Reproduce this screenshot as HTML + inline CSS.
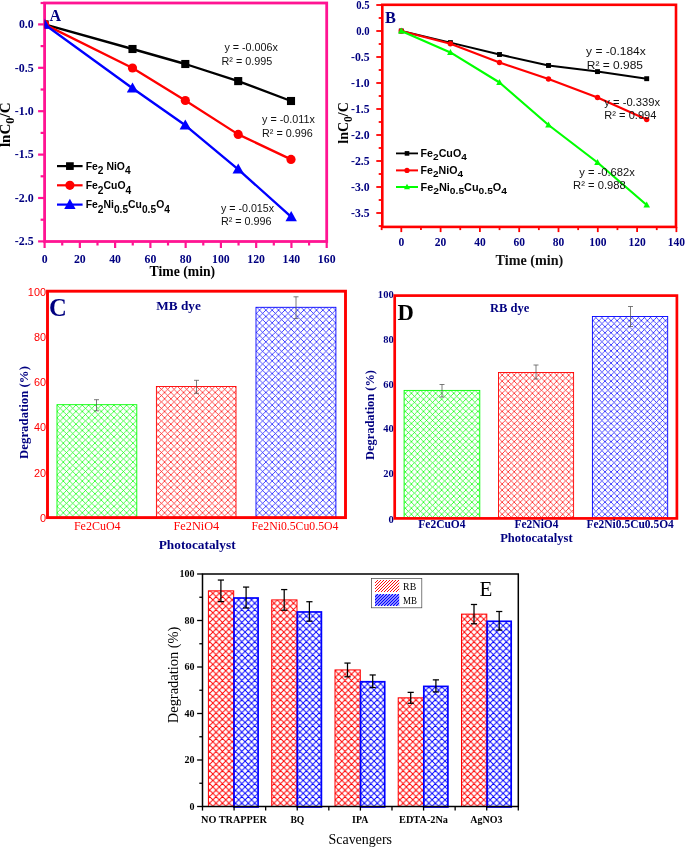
<!DOCTYPE html><html><head><meta charset="utf-8"><title>Figure</title>
<style>html,body{margin:0;padding:0;background:#fff}svg{display:block}</style></head><body>
<svg width="685" height="847" viewBox="0 0 685 847">
<rect width="685" height="847" fill="#fff"/>
<defs>
<pattern id="hg" width="6.33" height="6.33" patternUnits="userSpaceOnUse"><path d="M0,0 L6.33,6.33 M6.33,0 L0,6.33 M-3.165,3.165 L3.165,-3.165" stroke="#00FF00" stroke-width="0.7" fill="none"/></pattern>
<pattern id="hr" width="6.33" height="6.33" patternUnits="userSpaceOnUse"><path d="M0,0 L6.33,6.33 M6.33,0 L0,6.33 M-3.165,3.165 L3.165,-3.165" stroke="#FF0000" stroke-width="0.7" fill="none"/></pattern>
<pattern id="hb" width="6.33" height="6.33" patternUnits="userSpaceOnUse"><path d="M0,0 L6.33,6.33 M6.33,0 L0,6.33 M-3.165,3.165 L3.165,-3.165" stroke="#0000FF" stroke-width="0.7" fill="none"/></pattern>
<pattern id="dg" width="6.05" height="6.05" patternUnits="userSpaceOnUse"><path d="M0,0 L6.05,6.05 M6.05,0 L0,6.05 M-3.025,3.025 L3.025,-3.025" stroke="#00FF00" stroke-width="0.7" fill="none"/></pattern>
<pattern id="dr" width="6.05" height="6.05" patternUnits="userSpaceOnUse"><path d="M0,0 L6.05,6.05 M6.05,0 L0,6.05 M-3.025,3.025 L3.025,-3.025" stroke="#FF0000" stroke-width="0.7" fill="none"/></pattern>
<pattern id="db" width="6.05" height="6.05" patternUnits="userSpaceOnUse"><path d="M0,0 L6.05,6.05 M6.05,0 L0,6.05 M-3.025,3.025 L3.025,-3.025" stroke="#0000FF" stroke-width="0.7" fill="none"/></pattern>
<pattern id="er" width="6.45" height="6.45" patternUnits="userSpaceOnUse"><path d="M0,0 L6.45,6.45 M6.45,0 L0,6.45 M-3.225,3.225 L3.225,-3.225" stroke="#FF0000" stroke-width="0.95" fill="none"/></pattern>
<pattern id="eb" width="6.45" height="6.45" patternUnits="userSpaceOnUse"><path d="M0,0 L6.45,6.45 M6.45,0 L0,6.45 M-3.225,3.225 L3.225,-3.225" stroke="#0000FF" stroke-width="0.95" fill="none"/></pattern>
<pattern id="lr" width="2.1" height="2.1" patternUnits="userSpaceOnUse"><path d="M0,2.1 L2.1,0 M-1.05,1.05 L1.05,-1.05 M1.05,3.1500000000000004 L3.1500000000000004,1.05" stroke="#FF0000" stroke-width="0.62" fill="none"/></pattern>
<pattern id="lb" width="2.1" height="2.1" patternUnits="userSpaceOnUse"><path d="M0,2.1 L2.1,0 M-1.05,1.05 L1.05,-1.05 M1.05,3.1500000000000004 L3.1500000000000004,1.05" stroke="#0000FF" stroke-width="0.95" fill="none"/></pattern>
<clipPath id="ca"><rect x="44.6" y="3" width="282.1" height="238.5"/></clipPath>
</defs>
<line x1="44.60" y1="241.50" x2="44.60" y2="248.00" stroke="#FF1493" stroke-width="2.2"/>
<text x="41.65" y="262.6" font-size="12.3" fill="#000080" font-family='"Liberation Serif", serif' font-weight="bold" text-anchor="start" textLength="5.9" lengthAdjust="spacingAndGlyphs">0</text>
<line x1="62.23" y1="241.50" x2="62.23" y2="245.50" stroke="#FF1493" stroke-width="2.2"/>
<line x1="79.86" y1="241.50" x2="79.86" y2="248.00" stroke="#FF1493" stroke-width="2.2"/>
<text x="73.96249999999999" y="262.6" font-size="12.3" fill="#000080" font-family='"Liberation Serif", serif' font-weight="bold" text-anchor="start" textLength="11.8" lengthAdjust="spacingAndGlyphs">20</text>
<line x1="97.49" y1="241.50" x2="97.49" y2="245.50" stroke="#FF1493" stroke-width="2.2"/>
<line x1="115.12" y1="241.50" x2="115.12" y2="248.00" stroke="#FF1493" stroke-width="2.2"/>
<text x="109.225" y="262.6" font-size="12.3" fill="#000080" font-family='"Liberation Serif", serif' font-weight="bold" text-anchor="start" textLength="11.8" lengthAdjust="spacingAndGlyphs">40</text>
<line x1="132.76" y1="241.50" x2="132.76" y2="245.50" stroke="#FF1493" stroke-width="2.2"/>
<line x1="150.39" y1="241.50" x2="150.39" y2="248.00" stroke="#FF1493" stroke-width="2.2"/>
<text x="144.48749999999998" y="262.6" font-size="12.3" fill="#000080" font-family='"Liberation Serif", serif' font-weight="bold" text-anchor="start" textLength="11.8" lengthAdjust="spacingAndGlyphs">60</text>
<line x1="168.02" y1="241.50" x2="168.02" y2="245.50" stroke="#FF1493" stroke-width="2.2"/>
<line x1="185.65" y1="241.50" x2="185.65" y2="248.00" stroke="#FF1493" stroke-width="2.2"/>
<text x="179.74999999999997" y="262.6" font-size="12.3" fill="#000080" font-family='"Liberation Serif", serif' font-weight="bold" text-anchor="start" textLength="11.8" lengthAdjust="spacingAndGlyphs">80</text>
<line x1="203.28" y1="241.50" x2="203.28" y2="245.50" stroke="#FF1493" stroke-width="2.2"/>
<line x1="220.91" y1="241.50" x2="220.91" y2="248.00" stroke="#FF1493" stroke-width="2.2"/>
<text x="212.06249999999997" y="262.6" font-size="12.3" fill="#000080" font-family='"Liberation Serif", serif' font-weight="bold" text-anchor="start" textLength="17.7" lengthAdjust="spacingAndGlyphs">100</text>
<line x1="238.54" y1="241.50" x2="238.54" y2="245.50" stroke="#FF1493" stroke-width="2.2"/>
<line x1="256.18" y1="241.50" x2="256.18" y2="248.00" stroke="#FF1493" stroke-width="2.2"/>
<text x="247.32500000000002" y="262.6" font-size="12.3" fill="#000080" font-family='"Liberation Serif", serif' font-weight="bold" text-anchor="start" textLength="17.7" lengthAdjust="spacingAndGlyphs">120</text>
<line x1="273.81" y1="241.50" x2="273.81" y2="245.50" stroke="#FF1493" stroke-width="2.2"/>
<line x1="291.44" y1="241.50" x2="291.44" y2="248.00" stroke="#FF1493" stroke-width="2.2"/>
<text x="282.5875" y="262.6" font-size="12.3" fill="#000080" font-family='"Liberation Serif", serif' font-weight="bold" text-anchor="start" textLength="17.7" lengthAdjust="spacingAndGlyphs">140</text>
<line x1="309.07" y1="241.50" x2="309.07" y2="245.50" stroke="#FF1493" stroke-width="2.2"/>
<line x1="326.70" y1="241.50" x2="326.70" y2="248.00" stroke="#FF1493" stroke-width="2.2"/>
<text x="317.84999999999997" y="262.6" font-size="12.3" fill="#000080" font-family='"Liberation Serif", serif' font-weight="bold" text-anchor="start" textLength="17.7" lengthAdjust="spacingAndGlyphs">160</text>
<line x1="44.60" y1="24.40" x2="38.10" y2="24.40" stroke="#FF1493" stroke-width="2.2"/>
<text x="18.900000000000002" y="28.099999999999998" font-size="12.3" fill="#000080" font-family='"Liberation Serif", serif' font-weight="bold" text-anchor="start" textLength="14.8" lengthAdjust="spacingAndGlyphs">0.0</text>
<line x1="44.60" y1="46.10" x2="40.60" y2="46.10" stroke="#FF1493" stroke-width="2.2"/>
<line x1="44.60" y1="67.80" x2="38.10" y2="67.80" stroke="#FF1493" stroke-width="2.2"/>
<text x="14.800000000000004" y="71.5" font-size="12.3" fill="#000080" font-family='"Liberation Serif", serif' font-weight="bold" text-anchor="start" textLength="18.9" lengthAdjust="spacingAndGlyphs">-0.5</text>
<line x1="44.60" y1="89.50" x2="40.60" y2="89.50" stroke="#FF1493" stroke-width="2.2"/>
<line x1="44.60" y1="111.20" x2="38.10" y2="111.20" stroke="#FF1493" stroke-width="2.2"/>
<text x="14.800000000000004" y="114.89999999999999" font-size="12.3" fill="#000080" font-family='"Liberation Serif", serif' font-weight="bold" text-anchor="start" textLength="18.9" lengthAdjust="spacingAndGlyphs">-1.0</text>
<line x1="44.60" y1="132.90" x2="40.60" y2="132.90" stroke="#FF1493" stroke-width="2.2"/>
<line x1="44.60" y1="154.60" x2="38.10" y2="154.60" stroke="#FF1493" stroke-width="2.2"/>
<text x="14.800000000000004" y="158.29999999999998" font-size="12.3" fill="#000080" font-family='"Liberation Serif", serif' font-weight="bold" text-anchor="start" textLength="18.9" lengthAdjust="spacingAndGlyphs">-1.5</text>
<line x1="44.60" y1="176.30" x2="40.60" y2="176.30" stroke="#FF1493" stroke-width="2.2"/>
<line x1="44.60" y1="198.00" x2="38.10" y2="198.00" stroke="#FF1493" stroke-width="2.2"/>
<text x="14.800000000000004" y="201.7" font-size="12.3" fill="#000080" font-family='"Liberation Serif", serif' font-weight="bold" text-anchor="start" textLength="18.9" lengthAdjust="spacingAndGlyphs">-2.0</text>
<line x1="44.60" y1="219.70" x2="40.60" y2="219.70" stroke="#FF1493" stroke-width="2.2"/>
<line x1="44.60" y1="241.40" x2="38.10" y2="241.40" stroke="#FF1493" stroke-width="2.2"/>
<text x="14.800000000000004" y="245.1" font-size="12.3" fill="#000080" font-family='"Liberation Serif", serif' font-weight="bold" text-anchor="start" textLength="18.9" lengthAdjust="spacingAndGlyphs">-2.5</text>
<text x="149.6" y="276.4" font-size="14.2" fill="#000" font-family='"Liberation Serif", serif' font-weight="bold" text-anchor="start" textLength="65.6" lengthAdjust="spacingAndGlyphs">Time (min)</text>
<text transform="translate(10.4,147.1) rotate(-90)" font-size="14.6" fill="#000" font-family='"Liberation Serif", serif' font-weight="bold" textLength="44.6" lengthAdjust="spacingAndGlyphs">lnC<tspan font-size="12" dy="4">0</tspan><tspan dy="-4">/C</tspan></text>
<text x="49.4" y="20.7" font-size="17.4" fill="#000080" font-family='"Liberation Serif", serif' font-weight="bold" text-anchor="start" textLength="11.6" lengthAdjust="spacingAndGlyphs">A</text>
<rect x="44.6" y="3.0" width="282.09999999999997" height="238.5" fill="none" stroke="#FF1493" stroke-width="2.8"/>
<line x1="44.60" y1="3.00" x2="40.60" y2="3.00" stroke="#FF1493" stroke-width="2.2"/>
<g clip-path="url(#ca)">
<polyline points="44.6,24.4 132.5,49 185.3,64 238.2,81.1 291,101" fill="none" stroke="#000" stroke-width="2.35" stroke-linejoin="round"/>
<rect x="40.550000000000004" y="20.349999999999998" width="8.1" height="8.1" fill="#000"/>
<rect x="128.45" y="44.95" width="8.1" height="8.1" fill="#000"/>
<rect x="181.25" y="59.95" width="8.1" height="8.1" fill="#000"/>
<rect x="234.14999999999998" y="77.05" width="8.1" height="8.1" fill="#000"/>
<rect x="286.95" y="96.95" width="8.1" height="8.1" fill="#000"/>
<polyline points="44.6,24.4 132.5,68 185.3,100.5 238.2,134.4 291,159.4" fill="none" stroke="#FF0000" stroke-width="2.3" stroke-linejoin="round"/>
<circle cx="44.6" cy="24.4" r="4.6" fill="#FF0000"/>
<circle cx="132.5" cy="68" r="4.6" fill="#FF0000"/>
<circle cx="185.3" cy="100.5" r="4.6" fill="#FF0000"/>
<circle cx="238.2" cy="134.4" r="4.6" fill="#FF0000"/>
<circle cx="291" cy="159.4" r="4.6" fill="#FF0000"/>
<polyline points="44.6,24.4 132.5,88.3 185.3,125.3 238.2,169.3 291.2,216.9" fill="none" stroke="#0000FF" stroke-width="2.4" stroke-linejoin="round"/>
<polygon points="44.6,18.48 38.9,28.68 50.300000000000004,28.68" fill="#0000FF"/>
<polygon points="132.5,82.38 126.8,92.58 138.2,92.58" fill="#0000FF"/>
<polygon points="185.3,119.38 179.60000000000002,129.58 191.0,129.58" fill="#0000FF"/>
<polygon points="238.2,163.38 232.5,173.58 243.89999999999998,173.58" fill="#0000FF"/>
<polygon points="291.2,210.98 285.5,221.18 296.9,221.18" fill="#0000FF"/>
</g>
<text x="224.4" y="51.3" font-size="10.8" fill="#111" font-family='"Liberation Sans", sans-serif' text-anchor="start" textLength="53.5" lengthAdjust="spacingAndGlyphs">y = -0.006x</text>
<text x="221.5" y="64.9" font-size="10.8" fill="#111" font-family='"Liberation Sans", sans-serif' text-anchor="start" textLength="50.7" lengthAdjust="spacingAndGlyphs">R² = 0.995</text>
<text x="262" y="122.9" font-size="10.8" fill="#111" font-family='"Liberation Sans", sans-serif' text-anchor="start" textLength="52.8" lengthAdjust="spacingAndGlyphs">y = -0.011x</text>
<text x="262" y="136.8" font-size="10.8" fill="#111" font-family='"Liberation Sans", sans-serif' text-anchor="start" textLength="50.7" lengthAdjust="spacingAndGlyphs">R² = 0.996</text>
<text x="220.9" y="212" font-size="10.8" fill="#111" font-family='"Liberation Sans", sans-serif' text-anchor="start" textLength="53.2" lengthAdjust="spacingAndGlyphs">y = -0.015x</text>
<text x="220.9" y="225.4" font-size="10.8" fill="#111" font-family='"Liberation Sans", sans-serif' text-anchor="start" textLength="50.7" lengthAdjust="spacingAndGlyphs">R² = 0.996</text>
<line x1="57.00" y1="166.10" x2="82.60" y2="166.10" stroke="#000" stroke-width="2.2"/>
<rect x="66.05000000000001" y="162.25" width="7.7" height="7.7" fill="#000"/>
<line x1="57.00" y1="185.30" x2="82.60" y2="185.30" stroke="#FF0000" stroke-width="2.2"/>
<circle cx="69.9" cy="185.3" r="4.6" fill="#FF0000"/>
<line x1="57.00" y1="204.60" x2="82.60" y2="204.60" stroke="#0000FF" stroke-width="2.2"/>
<polygon points="69.9,198.68 64.2,208.88 75.60000000000001,208.88" fill="#0000FF"/>
<text x="85.7" y="169.9" font-size="10.8" fill="#000" font-family='"Liberation Sans", sans-serif' font-weight="bold" text-anchor="start" textLength="44.9" lengthAdjust="spacingAndGlyphs">Fe<tspan font-size="10.6" dy="4.4">2</tspan><tspan dy="-4.4"> NiO</tspan><tspan font-size="10.6" dy="4.4">4</tspan></text>
<text x="85.7" y="189.10000000000002" font-size="10.8" fill="#000" font-family='"Liberation Sans", sans-serif' font-weight="bold" text-anchor="start" textLength="45.5" lengthAdjust="spacingAndGlyphs">Fe<tspan font-size="10.6" dy="4.4">2</tspan><tspan dy="-4.4">CuO</tspan><tspan font-size="10.6" dy="4.4">4</tspan></text>
<text x="85.7" y="208.4" font-size="10.8" fill="#000" font-family='"Liberation Sans", sans-serif' font-weight="bold" text-anchor="start" textLength="84.2" lengthAdjust="spacingAndGlyphs">Fe<tspan font-size="10.6" dy="4.4">2</tspan><tspan dy="-4.4">Ni</tspan><tspan font-size="10.6" dy="4.4">0.5</tspan><tspan dy="-4.4">Cu</tspan><tspan font-size="10.6" dy="4.4">0.5</tspan><tspan dy="-4.4">O</tspan><tspan font-size="10.6" dy="4.4">4</tspan></text>
<line x1="381.65" y1="226.90" x2="381.65" y2="230.10" stroke="#FF0000" stroke-width="1.8"/>
<line x1="401.30" y1="226.90" x2="401.30" y2="232.10" stroke="#FF0000" stroke-width="1.8"/>
<text x="398.415" y="246.0" font-size="11.6" fill="#000080" font-family='"Liberation Serif", serif' font-weight="bold" text-anchor="start" textLength="5.8" lengthAdjust="spacingAndGlyphs">0</text>
<line x1="420.95" y1="226.90" x2="420.95" y2="230.10" stroke="#FF0000" stroke-width="1.8"/>
<line x1="440.60" y1="226.90" x2="440.60" y2="232.10" stroke="#FF0000" stroke-width="1.8"/>
<text x="434.83000000000004" y="246.0" font-size="11.6" fill="#000080" font-family='"Liberation Serif", serif' font-weight="bold" text-anchor="start" textLength="11.5" lengthAdjust="spacingAndGlyphs">20</text>
<line x1="460.25" y1="226.90" x2="460.25" y2="230.10" stroke="#FF0000" stroke-width="1.8"/>
<line x1="479.90" y1="226.90" x2="479.90" y2="232.10" stroke="#FF0000" stroke-width="1.8"/>
<text x="474.13" y="246.0" font-size="11.6" fill="#000080" font-family='"Liberation Serif", serif' font-weight="bold" text-anchor="start" textLength="11.5" lengthAdjust="spacingAndGlyphs">40</text>
<line x1="499.55" y1="226.90" x2="499.55" y2="230.10" stroke="#FF0000" stroke-width="1.8"/>
<line x1="519.20" y1="226.90" x2="519.20" y2="232.10" stroke="#FF0000" stroke-width="1.8"/>
<text x="513.4300000000001" y="246.0" font-size="11.6" fill="#000080" font-family='"Liberation Serif", serif' font-weight="bold" text-anchor="start" textLength="11.5" lengthAdjust="spacingAndGlyphs">60</text>
<line x1="538.85" y1="226.90" x2="538.85" y2="230.10" stroke="#FF0000" stroke-width="1.8"/>
<line x1="558.50" y1="226.90" x2="558.50" y2="232.10" stroke="#FF0000" stroke-width="1.8"/>
<text x="552.73" y="246.0" font-size="11.6" fill="#000080" font-family='"Liberation Serif", serif' font-weight="bold" text-anchor="start" textLength="11.5" lengthAdjust="spacingAndGlyphs">80</text>
<line x1="578.15" y1="226.90" x2="578.15" y2="230.10" stroke="#FF0000" stroke-width="1.8"/>
<line x1="597.80" y1="226.90" x2="597.80" y2="232.10" stroke="#FF0000" stroke-width="1.8"/>
<text x="589.145" y="246.0" font-size="11.6" fill="#000080" font-family='"Liberation Serif", serif' font-weight="bold" text-anchor="start" textLength="17.3" lengthAdjust="spacingAndGlyphs">100</text>
<line x1="617.45" y1="226.90" x2="617.45" y2="230.10" stroke="#FF0000" stroke-width="1.8"/>
<line x1="637.10" y1="226.90" x2="637.10" y2="232.10" stroke="#FF0000" stroke-width="1.8"/>
<text x="628.445" y="246.0" font-size="11.6" fill="#000080" font-family='"Liberation Serif", serif' font-weight="bold" text-anchor="start" textLength="17.3" lengthAdjust="spacingAndGlyphs">120</text>
<line x1="656.75" y1="226.90" x2="656.75" y2="230.10" stroke="#FF0000" stroke-width="1.8"/>
<line x1="676.40" y1="226.90" x2="676.40" y2="232.10" stroke="#FF0000" stroke-width="1.8"/>
<text x="667.745" y="246.0" font-size="11.6" fill="#000080" font-family='"Liberation Serif", serif' font-weight="bold" text-anchor="start" textLength="17.3" lengthAdjust="spacingAndGlyphs">140</text>
<line x1="382.30" y1="5.00" x2="376.30" y2="5.00" stroke="#FF0000" stroke-width="1.8"/>
<text x="356.20000000000005" y="8.6" font-size="11.6" fill="#000080" font-family='"Liberation Serif", serif' font-weight="bold" text-anchor="start" textLength="13.4" lengthAdjust="spacingAndGlyphs">0.5</text>
<line x1="382.30" y1="18.00" x2="378.70" y2="18.00" stroke="#FF0000" stroke-width="1.8"/>
<line x1="382.30" y1="31.00" x2="376.30" y2="31.00" stroke="#FF0000" stroke-width="1.8"/>
<text x="356.20000000000005" y="34.6" font-size="11.6" fill="#000080" font-family='"Liberation Serif", serif' font-weight="bold" text-anchor="start" textLength="13.4" lengthAdjust="spacingAndGlyphs">0.0</text>
<line x1="382.30" y1="44.00" x2="378.70" y2="44.00" stroke="#FF0000" stroke-width="1.8"/>
<line x1="382.30" y1="57.00" x2="376.30" y2="57.00" stroke="#FF0000" stroke-width="1.8"/>
<text x="351.0" y="60.6" font-size="11.6" fill="#000080" font-family='"Liberation Serif", serif' font-weight="bold" text-anchor="start" textLength="18.6" lengthAdjust="spacingAndGlyphs">-0.5</text>
<line x1="382.30" y1="70.00" x2="378.70" y2="70.00" stroke="#FF0000" stroke-width="1.8"/>
<line x1="382.30" y1="83.00" x2="376.30" y2="83.00" stroke="#FF0000" stroke-width="1.8"/>
<text x="351.0" y="86.6" font-size="11.6" fill="#000080" font-family='"Liberation Serif", serif' font-weight="bold" text-anchor="start" textLength="18.6" lengthAdjust="spacingAndGlyphs">-1.0</text>
<line x1="382.30" y1="96.00" x2="378.70" y2="96.00" stroke="#FF0000" stroke-width="1.8"/>
<line x1="382.30" y1="109.00" x2="376.30" y2="109.00" stroke="#FF0000" stroke-width="1.8"/>
<text x="351.0" y="112.6" font-size="11.6" fill="#000080" font-family='"Liberation Serif", serif' font-weight="bold" text-anchor="start" textLength="18.6" lengthAdjust="spacingAndGlyphs">-1.5</text>
<line x1="382.30" y1="122.00" x2="378.70" y2="122.00" stroke="#FF0000" stroke-width="1.8"/>
<line x1="382.30" y1="135.00" x2="376.30" y2="135.00" stroke="#FF0000" stroke-width="1.8"/>
<text x="351.0" y="138.6" font-size="11.6" fill="#000080" font-family='"Liberation Serif", serif' font-weight="bold" text-anchor="start" textLength="18.6" lengthAdjust="spacingAndGlyphs">-2.0</text>
<line x1="382.30" y1="148.00" x2="378.70" y2="148.00" stroke="#FF0000" stroke-width="1.8"/>
<line x1="382.30" y1="161.00" x2="376.30" y2="161.00" stroke="#FF0000" stroke-width="1.8"/>
<text x="351.0" y="164.6" font-size="11.6" fill="#000080" font-family='"Liberation Serif", serif' font-weight="bold" text-anchor="start" textLength="18.6" lengthAdjust="spacingAndGlyphs">-2.5</text>
<line x1="382.30" y1="174.00" x2="378.70" y2="174.00" stroke="#FF0000" stroke-width="1.8"/>
<line x1="382.30" y1="187.00" x2="376.30" y2="187.00" stroke="#FF0000" stroke-width="1.8"/>
<text x="351.0" y="190.6" font-size="11.6" fill="#000080" font-family='"Liberation Serif", serif' font-weight="bold" text-anchor="start" textLength="18.6" lengthAdjust="spacingAndGlyphs">-3.0</text>
<line x1="382.30" y1="200.00" x2="378.70" y2="200.00" stroke="#FF0000" stroke-width="1.8"/>
<line x1="382.30" y1="213.00" x2="376.30" y2="213.00" stroke="#FF0000" stroke-width="1.8"/>
<text x="351.0" y="216.6" font-size="11.6" fill="#000080" font-family='"Liberation Serif", serif' font-weight="bold" text-anchor="start" textLength="18.6" lengthAdjust="spacingAndGlyphs">-3.5</text>
<line x1="382.30" y1="226.00" x2="378.70" y2="226.00" stroke="#FF0000" stroke-width="1.8"/>
<text x="495.5" y="264.7" font-size="13.8" fill="#111" font-family='"Liberation Serif", serif' font-weight="bold" text-anchor="start" textLength="67.8" lengthAdjust="spacingAndGlyphs">Time (min)</text>
<text transform="translate(348.4,143.75) rotate(-90)" font-size="15.6" fill="#000" font-family='"Liberation Serif", serif' font-weight="bold" textLength="41.5" lengthAdjust="spacingAndGlyphs">lnC<tspan font-size="12.8" dy="4">0</tspan><tspan dy="-4">/C</tspan></text>
<text x="384.9" y="23.3" font-size="16.3" fill="#000080" font-family='"Liberation Serif", serif' font-weight="bold" text-anchor="start">B</text>
<polyline points="401.3,31 450.4,42.6 499.5,54.5 548.5,65.5 597.5,71.6 646.7,78.7" fill="none" stroke="#000" stroke-width="2.0" stroke-linejoin="round"/>
<rect x="398.85" y="28.55" width="4.9" height="4.9" fill="#000"/>
<rect x="447.95" y="40.15" width="4.9" height="4.9" fill="#000"/>
<rect x="497.05" y="52.05" width="4.9" height="4.9" fill="#000"/>
<rect x="546.05" y="63.05" width="4.9" height="4.9" fill="#000"/>
<rect x="595.05" y="69.14999999999999" width="4.9" height="4.9" fill="#000"/>
<rect x="644.25" y="76.25" width="4.9" height="4.9" fill="#000"/>
<polyline points="401.3,31 450.4,43.8 499.5,62.5 548.5,79 597.5,97.5 646.7,119.6" fill="none" stroke="#FF0000" stroke-width="2.2" stroke-linejoin="round"/>
<circle cx="401.3" cy="31" r="2.7" fill="#FF0000"/>
<circle cx="450.4" cy="43.8" r="2.7" fill="#FF0000"/>
<circle cx="499.5" cy="62.5" r="2.7" fill="#FF0000"/>
<circle cx="548.5" cy="79" r="2.7" fill="#FF0000"/>
<circle cx="597.5" cy="97.5" r="2.7" fill="#FF0000"/>
<circle cx="646.7" cy="119.6" r="2.7" fill="#FF0000"/>
<polyline points="401.3,31 450.4,52.4 499.5,82.5 548.5,125 597.5,162.5 646.7,205" fill="none" stroke="#00FF00" stroke-width="2.2" stroke-linejoin="round"/>
<polygon points="401.3,27.52 398.0,33.52 404.6,33.52" fill="#00FF00"/>
<polygon points="450.4,48.92 447.09999999999997,54.92 453.7,54.92" fill="#00FF00"/>
<polygon points="499.5,79.02 496.2,85.02 502.8,85.02" fill="#00FF00"/>
<polygon points="548.5,121.52 545.2,127.52 551.8,127.52" fill="#00FF00"/>
<polygon points="597.5,159.02 594.2,165.02 600.8,165.02" fill="#00FF00"/>
<polygon points="646.7,201.52 643.4000000000001,207.52 650.0,207.52" fill="#00FF00"/>
<text x="586.1" y="55" font-size="10.8" fill="#111" font-family='"Liberation Sans", sans-serif' text-anchor="start" textLength="59.7" lengthAdjust="spacingAndGlyphs">y = -0.184x</text>
<text x="586.8" y="69.2" font-size="10.8" fill="#111" font-family='"Liberation Sans", sans-serif' text-anchor="start" textLength="56.2" lengthAdjust="spacingAndGlyphs">R² = 0.985</text>
<text x="604.3" y="105.7" font-size="10.8" fill="#111" font-family='"Liberation Sans", sans-serif' text-anchor="start" textLength="55.7" lengthAdjust="spacingAndGlyphs">y = -0.339x</text>
<text x="604.3" y="118.9" font-size="10.8" fill="#111" font-family='"Liberation Sans", sans-serif' text-anchor="start" textLength="52.1" lengthAdjust="spacingAndGlyphs">R² = 0.994</text>
<text x="579.2" y="175.8" font-size="10.8" fill="#111" font-family='"Liberation Sans", sans-serif' text-anchor="start" textLength="55.6" lengthAdjust="spacingAndGlyphs">y = -0.682x</text>
<text x="573.1" y="188.9" font-size="10.8" fill="#111" font-family='"Liberation Sans", sans-serif' text-anchor="start" textLength="52.6" lengthAdjust="spacingAndGlyphs">R² = 0.988</text>
<line x1="396.00" y1="153.40" x2="418.00" y2="153.40" stroke="#000" stroke-width="1.8"/>
<rect x="404.7" y="151.1" width="4.6" height="4.6" fill="#000"/>
<line x1="396.00" y1="170.40" x2="418.00" y2="170.40" stroke="#FF0000" stroke-width="2"/>
<circle cx="407" cy="170.4" r="2.6" fill="#FF0000"/>
<line x1="396.00" y1="187.00" x2="418.00" y2="187.00" stroke="#00FF00" stroke-width="2"/>
<polygon points="407,183.81 404.0,189.31 410.0,189.31" fill="#00FF00"/>
<text x="420.6" y="157.0" font-size="10.5" fill="#000" font-family='"Liberation Sans", sans-serif' font-weight="bold" text-anchor="start" textLength="46.2" lengthAdjust="spacingAndGlyphs">Fe<tspan font-size="9.9" dy="3.2">2</tspan><tspan dy="-3.2">CuO</tspan><tspan font-size="9.9" dy="3.2">4</tspan></text>
<text x="420.6" y="174.0" font-size="10.5" fill="#000" font-family='"Liberation Sans", sans-serif' font-weight="bold" text-anchor="start" textLength="42.4" lengthAdjust="spacingAndGlyphs">Fe<tspan font-size="9.9" dy="3.2">2</tspan><tspan dy="-3.2">NiO</tspan><tspan font-size="9.9" dy="3.2">4</tspan></text>
<text x="420.6" y="190.6" font-size="10.5" fill="#000" font-family='"Liberation Sans", sans-serif' font-weight="bold" text-anchor="start" textLength="86.4" lengthAdjust="spacingAndGlyphs">Fe<tspan font-size="9.9" dy="3.2">2</tspan><tspan dy="-3.2">Ni</tspan><tspan font-size="9.9" dy="3.2">0.5</tspan><tspan dy="-3.2">Cu</tspan><tspan font-size="9.9" dy="3.2">0.5</tspan><tspan dy="-3.2">O</tspan><tspan font-size="9.9" dy="3.2">4</tspan></text>
<rect x="382.3" y="4.8" width="293.7" height="222.1" fill="none" stroke="#FF0000" stroke-width="2.6"/>
<text x="40.03" y="522.4" font-size="10.8" fill="#FF0000" font-family='"Liberation Sans", sans-serif' text-anchor="start" textLength="6.1" lengthAdjust="spacingAndGlyphs">0</text>
<text x="33.96" y="476.5799999999999" font-size="10.8" fill="#FF0000" font-family='"Liberation Sans", sans-serif' text-anchor="start" textLength="12.1" lengthAdjust="spacingAndGlyphs">20</text>
<text x="33.96" y="431.35999999999996" font-size="10.8" fill="#FF0000" font-family='"Liberation Sans", sans-serif' text-anchor="start" textLength="12.1" lengthAdjust="spacingAndGlyphs">40</text>
<text x="33.96" y="386.14" font-size="10.8" fill="#FF0000" font-family='"Liberation Sans", sans-serif' text-anchor="start" textLength="12.1" lengthAdjust="spacingAndGlyphs">60</text>
<text x="33.96" y="340.91999999999996" font-size="10.8" fill="#FF0000" font-family='"Liberation Sans", sans-serif' text-anchor="start" textLength="12.1" lengthAdjust="spacingAndGlyphs">80</text>
<text x="27.89" y="296.0999999999999" font-size="10.8" fill="#FF0000" font-family='"Liberation Sans", sans-serif' text-anchor="start" textLength="18.2" lengthAdjust="spacingAndGlyphs">100</text>
<rect x="57" y="404.7" width="79.80000000000001" height="112.80000000000001" fill="url(#hg)" stroke="#00FF00" stroke-width="0.9"/>
<rect x="156.4" y="386.5" width="79.6" height="131.0" fill="url(#hr)" stroke="#FF0000" stroke-width="0.9"/>
<rect x="256.0" y="307.3" width="79.89999999999998" height="210.2" fill="url(#hb)" stroke="#0000FF" stroke-width="0.9"/>
<line x1="96.50" y1="399.70" x2="96.50" y2="410.80" stroke="#505050" stroke-width="0.75"/>
<line x1="94.00" y1="399.70" x2="99.00" y2="399.70" stroke="#505050" stroke-width="0.75"/>
<line x1="94.00" y1="410.80" x2="99.00" y2="410.80" stroke="#505050" stroke-width="0.75"/>
<line x1="196.50" y1="380.30" x2="196.50" y2="393.30" stroke="#505050" stroke-width="0.75"/>
<line x1="194.00" y1="380.30" x2="199.00" y2="380.30" stroke="#505050" stroke-width="0.75"/>
<line x1="194.00" y1="393.30" x2="199.00" y2="393.30" stroke="#505050" stroke-width="0.75"/>
<line x1="296.00" y1="296.80" x2="296.00" y2="318.60" stroke="#505050" stroke-width="0.75"/>
<line x1="293.50" y1="296.80" x2="298.50" y2="296.80" stroke="#505050" stroke-width="0.75"/>
<line x1="293.50" y1="318.60" x2="298.50" y2="318.60" stroke="#505050" stroke-width="0.75"/>
<rect x="47.5" y="291.2" width="298.0" height="226.40000000000003" fill="none" stroke="#FF0000" stroke-width="2.9"/>
<text x="49" y="315.5" font-size="24.6" fill="#000080" font-family='"Liberation Serif", serif' font-weight="bold" text-anchor="start">C</text>
<text x="156.3" y="309.5" font-size="13" fill="#000080" font-family='"Liberation Serif", serif' font-weight="bold" text-anchor="start" textLength="44.6" lengthAdjust="spacingAndGlyphs">MB dye</text>
<text x="73.9" y="530.2" font-size="12" fill="#FF0000" font-family='"Liberation Serif", serif' text-anchor="start" textLength="46.7" lengthAdjust="spacingAndGlyphs">Fe2CuO4</text>
<text x="173.5" y="530.2" font-size="12" fill="#FF0000" font-family='"Liberation Serif", serif' text-anchor="start" textLength="45.7" lengthAdjust="spacingAndGlyphs">Fe2NiO4</text>
<text x="251.5" y="530.2" font-size="12" fill="#FF0000" font-family='"Liberation Serif", serif' text-anchor="start" textLength="86.9" lengthAdjust="spacingAndGlyphs">Fe2Ni0.5Cu0.5O4</text>
<text x="158.7" y="548.9" font-size="12.9" fill="#000080" font-family='"Liberation Serif", serif' font-weight="bold" text-anchor="start" textLength="76.9" lengthAdjust="spacingAndGlyphs">Photocatalyst</text>
<text transform="translate(27.6,458.9) rotate(-90)" font-size="12.8" fill="#000080" font-family='"Liberation Serif", serif' font-weight="bold" textLength="92.8" lengthAdjust="spacingAndGlyphs">Degradation (%)</text>
<text x="388.43" y="522.6" font-size="10.4" fill="#000080" font-family='"Liberation Serif", serif' font-weight="bold" text-anchor="start" textLength="5.3" lengthAdjust="spacingAndGlyphs">0</text>
<text x="383.15999999999997" y="476.65999999999997" font-size="10.4" fill="#000080" font-family='"Liberation Serif", serif' font-weight="bold" text-anchor="start" textLength="10.5" lengthAdjust="spacingAndGlyphs">20</text>
<text x="383.15999999999997" y="432.21999999999997" font-size="10.4" fill="#000080" font-family='"Liberation Serif", serif' font-weight="bold" text-anchor="start" textLength="10.5" lengthAdjust="spacingAndGlyphs">40</text>
<text x="383.15999999999997" y="387.78" font-size="10.4" fill="#000080" font-family='"Liberation Serif", serif' font-weight="bold" text-anchor="start" textLength="10.5" lengthAdjust="spacingAndGlyphs">60</text>
<text x="383.15999999999997" y="343.34" font-size="10.4" fill="#000080" font-family='"Liberation Serif", serif' font-weight="bold" text-anchor="start" textLength="10.5" lengthAdjust="spacingAndGlyphs">80</text>
<text x="377.89" y="298.09999999999997" font-size="10.4" fill="#000080" font-family='"Liberation Serif", serif' font-weight="bold" text-anchor="start" textLength="15.8" lengthAdjust="spacingAndGlyphs">100</text>
<rect x="404.1" y="390.4" width="75.69999999999999" height="128.0" fill="url(#dg)" stroke="#00FF00" stroke-width="0.9"/>
<rect x="498.5" y="372.5" width="75.10000000000002" height="145.89999999999998" fill="url(#dr)" stroke="#FF0000" stroke-width="0.9"/>
<rect x="592.4" y="316.5" width="75.30000000000007" height="201.89999999999998" fill="url(#db)" stroke="#0000FF" stroke-width="0.9"/>
<line x1="442.00" y1="384.50" x2="442.00" y2="397.00" stroke="#505050" stroke-width="0.75"/>
<line x1="439.50" y1="384.50" x2="444.50" y2="384.50" stroke="#505050" stroke-width="0.75"/>
<line x1="439.50" y1="397.00" x2="444.50" y2="397.00" stroke="#505050" stroke-width="0.75"/>
<line x1="536.00" y1="365.00" x2="536.00" y2="379.00" stroke="#505050" stroke-width="0.75"/>
<line x1="533.50" y1="365.00" x2="538.50" y2="365.00" stroke="#505050" stroke-width="0.75"/>
<line x1="533.50" y1="379.00" x2="538.50" y2="379.00" stroke="#505050" stroke-width="0.75"/>
<line x1="630.50" y1="306.50" x2="630.50" y2="326.50" stroke="#505050" stroke-width="0.75"/>
<line x1="628.00" y1="306.50" x2="633.00" y2="306.50" stroke="#505050" stroke-width="0.75"/>
<line x1="628.00" y1="326.50" x2="633.00" y2="326.50" stroke="#505050" stroke-width="0.75"/>
<rect x="394.7" y="295.6" width="282.2" height="222.79999999999995" fill="none" stroke="#FF0000" stroke-width="2.7"/>
<text x="397.6" y="319.9" font-size="22.6" fill="#000" font-family='"Liberation Serif", serif' font-weight="bold" text-anchor="start">D</text>
<text x="490" y="311.7" font-size="12.8" fill="#000080" font-family='"Liberation Serif", serif' font-weight="bold" text-anchor="start" textLength="39.4" lengthAdjust="spacingAndGlyphs">RB dye</text>
<text x="418.3" y="528.2" font-size="11.8" fill="#000080" font-family='"Liberation Serif", serif' font-weight="bold" text-anchor="start" textLength="47.2" lengthAdjust="spacingAndGlyphs">Fe2CuO4</text>
<text x="514.5" y="528.2" font-size="11.8" fill="#000080" font-family='"Liberation Serif", serif' font-weight="bold" text-anchor="start" textLength="44.0" lengthAdjust="spacingAndGlyphs">Fe2NiO4</text>
<text x="586.5" y="528.2" font-size="11.8" fill="#000080" font-family='"Liberation Serif", serif' font-weight="bold" text-anchor="start" textLength="87.3" lengthAdjust="spacingAndGlyphs">Fe2Ni0.5Cu0.5O4</text>
<text x="500.2" y="542.2" font-size="12.2" fill="#000080" font-family='"Liberation Serif", serif' font-weight="bold" text-anchor="start" textLength="72.4" lengthAdjust="spacingAndGlyphs">Photocatalyst</text>
<text transform="translate(373.6,460.0) rotate(-90)" font-size="12.4" fill="#000080" font-family='"Liberation Serif", serif' font-weight="bold" textLength="90" lengthAdjust="spacingAndGlyphs">Degradation (%)</text>
<rect x="208.4" y="590.84" width="25.3" height="215.66" fill="url(#er)" stroke="#FF0000" stroke-width="1"/>
<rect x="234.0" y="598.01" width="24.1" height="208.99" fill="url(#eb)" stroke="#0000FF" stroke-width="1.7"/>
<line x1="220.90" y1="580.05" x2="220.90" y2="601.63" stroke="#000" stroke-width="1.25"/>
<line x1="217.80" y1="580.05" x2="224.00" y2="580.05" stroke="#000" stroke-width="1.25"/>
<line x1="217.80" y1="601.63" x2="224.00" y2="601.63" stroke="#000" stroke-width="1.25"/>
<line x1="246.10" y1="587.08" x2="246.10" y2="607.95" stroke="#000" stroke-width="1.25"/>
<line x1="243.00" y1="587.08" x2="249.20" y2="587.08" stroke="#000" stroke-width="1.25"/>
<line x1="243.00" y1="607.95" x2="249.20" y2="607.95" stroke="#000" stroke-width="1.25"/>
<rect x="271.7" y="599.91" width="25.3" height="206.59" fill="url(#er)" stroke="#FF0000" stroke-width="1"/>
<rect x="297.3" y="611.96" width="24.1" height="195.04" fill="url(#eb)" stroke="#0000FF" stroke-width="1.7"/>
<line x1="284.20" y1="589.57" x2="284.20" y2="610.24" stroke="#000" stroke-width="1.25"/>
<line x1="281.10" y1="589.57" x2="287.30" y2="589.57" stroke="#000" stroke-width="1.25"/>
<line x1="281.10" y1="610.24" x2="287.30" y2="610.24" stroke="#000" stroke-width="1.25"/>
<line x1="309.40" y1="601.72" x2="309.40" y2="621.21" stroke="#000" stroke-width="1.25"/>
<line x1="306.30" y1="601.72" x2="312.50" y2="601.72" stroke="#000" stroke-width="1.25"/>
<line x1="306.30" y1="621.21" x2="312.50" y2="621.21" stroke="#000" stroke-width="1.25"/>
<rect x="335.0" y="669.93" width="25.3" height="136.57" fill="url(#er)" stroke="#FF0000" stroke-width="1"/>
<rect x="360.6" y="681.75" width="24.1" height="125.25" fill="url(#eb)" stroke="#0000FF" stroke-width="1.7"/>
<line x1="347.50" y1="663.07" x2="347.50" y2="676.78" stroke="#000" stroke-width="1.25"/>
<line x1="344.40" y1="663.07" x2="350.60" y2="663.07" stroke="#000" stroke-width="1.25"/>
<line x1="344.40" y1="676.78" x2="350.60" y2="676.78" stroke="#000" stroke-width="1.25"/>
<line x1="372.70" y1="674.97" x2="372.70" y2="687.53" stroke="#000" stroke-width="1.25"/>
<line x1="369.60" y1="674.97" x2="375.80" y2="674.97" stroke="#000" stroke-width="1.25"/>
<line x1="369.60" y1="687.53" x2="375.80" y2="687.53" stroke="#000" stroke-width="1.25"/>
<rect x="398.2" y="697.83" width="25.3" height="108.67" fill="url(#er)" stroke="#FF0000" stroke-width="1"/>
<rect x="423.8" y="686.40" width="24.1" height="120.60" fill="url(#eb)" stroke="#0000FF" stroke-width="1.7"/>
<line x1="410.70" y1="692.36" x2="410.70" y2="703.29" stroke="#000" stroke-width="1.25"/>
<line x1="407.60" y1="692.36" x2="413.80" y2="692.36" stroke="#000" stroke-width="1.25"/>
<line x1="407.60" y1="703.29" x2="413.80" y2="703.29" stroke="#000" stroke-width="1.25"/>
<line x1="435.90" y1="679.86" x2="435.90" y2="691.94" stroke="#000" stroke-width="1.25"/>
<line x1="432.80" y1="679.86" x2="439.00" y2="679.86" stroke="#000" stroke-width="1.25"/>
<line x1="432.80" y1="691.94" x2="439.00" y2="691.94" stroke="#000" stroke-width="1.25"/>
<rect x="461.5" y="614.12" width="25.3" height="192.38" fill="url(#er)" stroke="#FF0000" stroke-width="1"/>
<rect x="487.1" y="621.30" width="24.1" height="185.70" fill="url(#eb)" stroke="#0000FF" stroke-width="1.7"/>
<line x1="474.00" y1="604.48" x2="474.00" y2="623.77" stroke="#000" stroke-width="1.25"/>
<line x1="470.90" y1="604.48" x2="477.10" y2="604.48" stroke="#000" stroke-width="1.25"/>
<line x1="470.90" y1="623.77" x2="477.10" y2="623.77" stroke="#000" stroke-width="1.25"/>
<line x1="499.20" y1="611.50" x2="499.20" y2="630.10" stroke="#000" stroke-width="1.25"/>
<line x1="496.10" y1="611.50" x2="502.30" y2="611.50" stroke="#000" stroke-width="1.25"/>
<line x1="496.10" y1="630.10" x2="502.30" y2="630.10" stroke="#000" stroke-width="1.25"/>
<rect x="202.5" y="574.0" width="315.79999999999995" height="232.5" fill="none" stroke="#000" stroke-width="1.5"/>
<line x1="202.50" y1="806.50" x2="197.10" y2="806.50" stroke="#000" stroke-width="1.3"/>
<text x="189.6" y="809.8" font-size="10.6" fill="#000" font-family='"Liberation Serif", serif' font-weight="bold" text-anchor="start" textLength="5.0" lengthAdjust="spacingAndGlyphs">0</text>
<line x1="202.50" y1="783.25" x2="199.30" y2="783.25" stroke="#000" stroke-width="1.3"/>
<line x1="202.50" y1="760.00" x2="197.10" y2="760.00" stroke="#000" stroke-width="1.3"/>
<text x="184.6" y="763.3" font-size="10.6" fill="#000" font-family='"Liberation Serif", serif' font-weight="bold" text-anchor="start" textLength="10.0" lengthAdjust="spacingAndGlyphs">20</text>
<line x1="202.50" y1="736.75" x2="199.30" y2="736.75" stroke="#000" stroke-width="1.3"/>
<line x1="202.50" y1="713.50" x2="197.10" y2="713.50" stroke="#000" stroke-width="1.3"/>
<text x="184.6" y="716.8" font-size="10.6" fill="#000" font-family='"Liberation Serif", serif' font-weight="bold" text-anchor="start" textLength="10.0" lengthAdjust="spacingAndGlyphs">40</text>
<line x1="202.50" y1="690.25" x2="199.30" y2="690.25" stroke="#000" stroke-width="1.3"/>
<line x1="202.50" y1="667.00" x2="197.10" y2="667.00" stroke="#000" stroke-width="1.3"/>
<text x="184.6" y="670.3" font-size="10.6" fill="#000" font-family='"Liberation Serif", serif' font-weight="bold" text-anchor="start" textLength="10.0" lengthAdjust="spacingAndGlyphs">60</text>
<line x1="202.50" y1="643.75" x2="199.30" y2="643.75" stroke="#000" stroke-width="1.3"/>
<line x1="202.50" y1="620.50" x2="197.10" y2="620.50" stroke="#000" stroke-width="1.3"/>
<text x="184.6" y="623.8" font-size="10.6" fill="#000" font-family='"Liberation Serif", serif' font-weight="bold" text-anchor="start" textLength="10.0" lengthAdjust="spacingAndGlyphs">80</text>
<line x1="202.50" y1="597.25" x2="199.30" y2="597.25" stroke="#000" stroke-width="1.3"/>
<line x1="202.50" y1="574.00" x2="197.10" y2="574.00" stroke="#000" stroke-width="1.3"/>
<text x="179.6" y="577.3" font-size="10.6" fill="#000" font-family='"Liberation Serif", serif' font-weight="bold" text-anchor="start" textLength="15.0" lengthAdjust="spacingAndGlyphs">100</text>
<line x1="202.50" y1="806.50" x2="202.50" y2="810.60" stroke="#000" stroke-width="1.3"/>
<line x1="234.08" y1="806.50" x2="234.08" y2="810.60" stroke="#000" stroke-width="1.3"/>
<line x1="265.66" y1="806.50" x2="265.66" y2="810.60" stroke="#000" stroke-width="1.3"/>
<line x1="297.24" y1="806.50" x2="297.24" y2="810.60" stroke="#000" stroke-width="1.3"/>
<line x1="328.82" y1="806.50" x2="328.82" y2="810.60" stroke="#000" stroke-width="1.3"/>
<line x1="360.40" y1="806.50" x2="360.40" y2="810.60" stroke="#000" stroke-width="1.3"/>
<line x1="391.98" y1="806.50" x2="391.98" y2="810.60" stroke="#000" stroke-width="1.3"/>
<line x1="423.56" y1="806.50" x2="423.56" y2="810.60" stroke="#000" stroke-width="1.3"/>
<line x1="455.14" y1="806.50" x2="455.14" y2="810.60" stroke="#000" stroke-width="1.3"/>
<line x1="486.72" y1="806.50" x2="486.72" y2="810.60" stroke="#000" stroke-width="1.3"/>
<line x1="518.30" y1="806.50" x2="518.30" y2="810.60" stroke="#000" stroke-width="1.3"/>
<text x="201" y="822.6" font-size="10" fill="#000" font-family='"Liberation Serif", serif' font-weight="bold" text-anchor="start" textLength="66.0" lengthAdjust="spacingAndGlyphs">NO TRAPPER</text>
<text x="290.4" y="822.6" font-size="10" fill="#000" font-family='"Liberation Serif", serif' font-weight="bold" text-anchor="start" textLength="13.9" lengthAdjust="spacingAndGlyphs">BQ</text>
<text x="352.1" y="822.6" font-size="10" fill="#000" font-family='"Liberation Serif", serif' font-weight="bold" text-anchor="start" textLength="16.3" lengthAdjust="spacingAndGlyphs">IPA</text>
<text x="399.1" y="822.6" font-size="10" fill="#000" font-family='"Liberation Serif", serif' font-weight="bold" text-anchor="start" textLength="48.9" lengthAdjust="spacingAndGlyphs">EDTA-2Na</text>
<text x="470.3" y="822.6" font-size="10" fill="#000" font-family='"Liberation Serif", serif' font-weight="bold" text-anchor="start" textLength="32.1" lengthAdjust="spacingAndGlyphs">AgNO3</text>
<text x="328.5" y="843.6" font-size="13.9" fill="#000" font-family='"Liberation Serif", serif' text-anchor="start" textLength="63.5" lengthAdjust="spacingAndGlyphs">Scavengers</text>
<text transform="translate(177.9,723.1999999999999) rotate(-90)" font-size="14.4" fill="#000" font-family='"Liberation Serif", serif' textLength="96.6" lengthAdjust="spacingAndGlyphs">Degradation (%)</text>
<text x="479.6" y="595.7" font-size="21" fill="#000" font-family='"Liberation Serif", serif' text-anchor="start">E</text>
<rect x="371.4" y="578.4" width="50.4" height="29.4" fill="#fff" stroke="#444" stroke-width="0.7"/>
<clipPath id="cl1"><rect x="375" y="580" width="24.2" height="12"/></clipPath>
<path d="M363.00,592.00 L375.00,580.00 M366.00,592.00 L378.00,580.00 M369.00,592.00 L381.00,580.00 M372.00,592.00 L384.00,580.00 M375.00,592.00 L387.00,580.00 M378.00,592.00 L390.00,580.00 M381.00,592.00 L393.00,580.00 M384.00,592.00 L396.00,580.00 M387.00,592.00 L399.00,580.00 M390.00,592.00 L402.00,580.00 M393.00,592.00 L405.00,580.00 M396.00,592.00 L408.00,580.00 M399.00,592.00 L411.00,580.00 M402.00,592.00 L414.00,580.00" stroke="#FF0000" stroke-width="0.95" fill="none" clip-path="url(#cl1)"/>
<clipPath id="cl2"><rect x="375" y="594" width="24.2" height="12"/></clipPath>
<path d="M363.00,606.00 L375.00,594.00 M366.00,606.00 L378.00,594.00 M369.00,606.00 L381.00,594.00 M372.00,606.00 L384.00,594.00 M375.00,606.00 L387.00,594.00 M378.00,606.00 L390.00,594.00 M381.00,606.00 L393.00,594.00 M384.00,606.00 L396.00,594.00 M387.00,606.00 L399.00,594.00 M390.00,606.00 L402.00,594.00 M393.00,606.00 L405.00,594.00 M396.00,606.00 L408.00,594.00 M399.00,606.00 L411.00,594.00 M402.00,606.00 L414.00,594.00" stroke="#0000FF" stroke-width="1.35" fill="none" clip-path="url(#cl2)"/>
<text x="403.1" y="589.7" font-size="10" fill="#000" font-family='"Liberation Serif", serif' text-anchor="start" textLength="13.1" lengthAdjust="spacingAndGlyphs">RB</text>
<text x="403.1" y="603.5" font-size="10" fill="#000" font-family='"Liberation Serif", serif' text-anchor="start" textLength="13.9" lengthAdjust="spacingAndGlyphs">MB</text>
</svg></body></html>
